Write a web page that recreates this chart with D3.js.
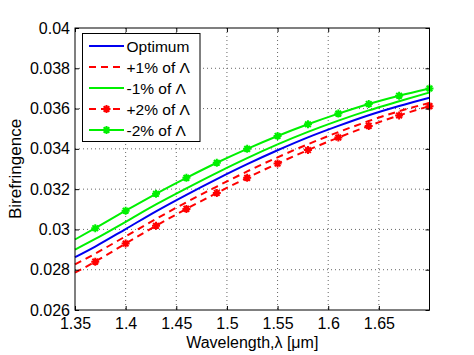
<!DOCTYPE html>
<html><head><meta charset="utf-8">
<script src="https://cdn.jsdelivr.net/npm/d3@7"></script>
<style>body{margin:0;background:#fff}svg{display:block;font-family:"Liberation Sans",Arial,sans-serif}</style>
</head><body><svg id="c" width="474" height="355"></svg>
<script>
const wavelength = [1.35,1.37,1.40,1.43,1.46,1.49,1.52,1.55,1.58,1.61,1.64,1.67,1.70];
const optimum   = [0.02862,0.02915,0.03002,0.03090,0.03172,0.03250,0.03324,0.03393,0.03457,0.03514,0.03567,0.03613,0.03654];
const plus1     = [0.02826,0.02880,0.02966,0.03052,0.03135,0.03213,0.03288,0.03358,0.03423,0.03483,0.03538,0.03587,0.03628];
const minus1    = [0.02900,0.02953,0.03038,0.03124,0.03204,0.03281,0.03354,0.03422,0.03484,0.03540,0.03591,0.03636,0.03680];
const plus2     = [0.02785,0.02840,0.02930,0.03018,0.03102,0.03181,0.03256,0.03327,0.03394,0.03456,0.03514,0.03566,0.03612];
const minus2    = [0.02950,0.03006,0.03093,0.03177,0.03256,0.03331,0.03400,0.03464,0.03522,0.03575,0.03623,0.03664,0.03700];
const xTicks = [1.35,1.4,1.45,1.5,1.55,1.6,1.65];
const yTicks = [0.026,0.028,0.03,0.032,0.034,0.036,0.038,0.04];
const seriesNames = ["Optimum","+1% of \u039B","-1% of \u039B","+2% of \u039B","-2% of \u039B"];

const series = [
  {name:seriesNames[0], v:optimum, color:"#0000f0", dash:null, marker:false},
  {name:seriesNames[1], v:plus1,   color:"#ff0000", dash:"7,5", marker:false},
  {name:seriesNames[2], v:minus1,  color:"#00f000", dash:null, marker:false},
  {name:seriesNames[3], v:plus2,   color:"#ff0000", dash:"7,5", marker:true},
  {name:seriesNames[4], v:minus2,  color:"#00f000", dash:null, marker:true}
];

const L=75, R=429.5, T=28, B=310;
const svg = d3.select("#c");
const x = d3.scaleLinear().domain([1.35,1.70]).range([L,R]);
const y = d3.scaleLinear().domain([0.026,0.04]).range([B,T]);

// 8-arm asterisk (like MATLAB '*')
const star = {draw(ctx,size){const r=Math.sqrt(size)/2, d=r*Math.SQRT1_2;
  ctx.moveTo(-r,0);ctx.lineTo(r,0);ctx.moveTo(0,-r);ctx.lineTo(0,r);
  ctx.moveTo(-d,-d);ctx.lineTo(d,d);ctx.moveTo(-d,d);ctx.lineTo(d,-d);}};

// grid
const g = svg.append("g");
g.selectAll(".gx").data(xTicks.slice(1)).join("line")
  .attr("x1",d=>x(d)).attr("x2",d=>x(d)).attr("y1",T).attr("y2",B)
  .attr("stroke","#666").attr("stroke-width",1).attr("stroke-dasharray","1,3");
g.selectAll(".gy").data(yTicks.slice(1,-1)).join("line")
  .attr("y1",d=>y(d)).attr("y2",d=>y(d)).attr("x1",L).attr("x2",R)
  .attr("stroke","#666").attr("stroke-width",1).attr("stroke-dasharray","1,3");

// series
const line = d3.line().x((d,i)=>x(wavelength[i])).y(d=>y(d)).curve(d3.curveMonotoneX);
const sg = svg.append("g");
series.forEach(s=>{
  sg.append("path").attr("d",line(s.v)).attr("fill","none").attr("stroke",s.color)
    .attr("stroke-width",2).attr("stroke-dasharray",s.dash);
  if(s.marker){
    sg.selectAll(null).data(s.v.slice(1)).join("path")
      .attr("transform",(d,i)=>`translate(${x(wavelength[i+1])},${y(d)})`)
      .attr("d",d3.symbol().type(star).size(64))
      .attr("fill","none").attr("stroke",s.color).attr("stroke-width",2);
  }
});

// axes box
svg.append("rect").attr("x",L).attr("y",T).attr("width",R-L).attr("height",B-T)
  .attr("fill","none").attr("stroke","#000").attr("stroke-width",1);

const xAxis = d3.axisBottom(x).tickValues(xTicks).tickSizeInner(-4).tickSizeOuter(0)
  .tickPadding(8).tickFormat(d=>String(+d.toFixed(2)));
const xa = svg.append("g").attr("transform",`translate(0,${B})`).call(xAxis);
xa.select(".domain").remove();
xa.selectAll("text").attr("font-size",16).attr("font-family","Liberation Sans, Arial, sans-serif").attr("fill","#000");
const xTop = svg.append("g").attr("transform",`translate(0,${T})`).call(d3.axisTop(x).tickValues(xTicks).tickSizeInner(-4).tickSizeOuter(0).tickFormat(""));
xTop.select(".domain").remove();

const yAxis = d3.axisLeft(y).tickValues(yTicks).tickSizeInner(-4).tickSizeOuter(0)
  .tickPadding(5).tickFormat(d=>String(+d.toFixed(3)));
const ya = svg.append("g").attr("transform",`translate(${L},0)`).call(yAxis);
ya.select(".domain").remove();
ya.selectAll("text").attr("font-size",16).attr("font-family","Liberation Sans, Arial, sans-serif").attr("fill","#000");
const yR = svg.append("g").attr("transform",`translate(${R},0)`).call(d3.axisRight(y).tickValues(yTicks).tickSizeInner(-4).tickSizeOuter(0).tickFormat(""));
yR.select(".domain").remove();

// labels
svg.append("text").attr("x",(L+R)/2).attr("y",348).attr("text-anchor","middle")
  .attr("font-size",16).attr("fill","#000").text("Wavelength,\u03BB [\u03BCm]");
svg.append("text").attr("transform",`translate(21,${(T+B)/2}) rotate(-90)`).attr("text-anchor","middle")
  .attr("font-size",17).attr("fill","#000").text("Birefringence");

// legend
const lg = svg.append("g");
lg.append("rect").attr("x",82.5).attr("y",33.5).attr("width",117.5).attr("height",108)
  .attr("fill","#fff").attr("stroke","#000").attr("stroke-width",1);
series.forEach((s,i)=>{
  const yy = 46 + i*21;
  lg.append("line").attr("x1",89).attr("x2",124).attr("y1",yy).attr("y2",yy)
    .attr("stroke",s.color).attr("stroke-width",2).attr("stroke-dasharray",s.dash);
  if(s.marker){
    lg.append("path").attr("transform",`translate(106.5,${yy})`)
      .attr("d",d3.symbol().type(star).size(64))
      .attr("fill","none").attr("stroke",s.color).attr("stroke-width",2);
  }
  lg.append("text").attr("x",126.5).attr("y",yy+5.5).attr("font-size",15.5).attr("fill","#000").text(s.name);
});
</script></body></html>
